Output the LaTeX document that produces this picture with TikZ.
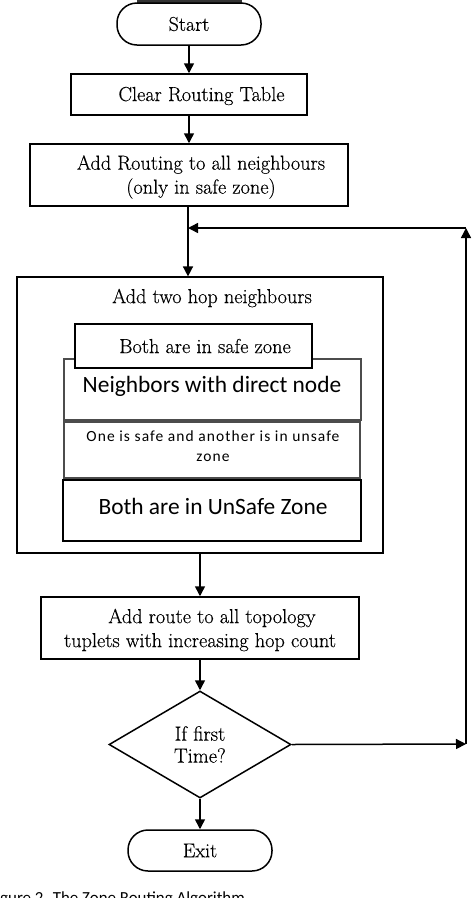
\documentclass[tikz,border=0pt]{standalone}
\usepackage{fontspec}
\setmainfont{Latin Modern Roman}[FakeBold=0.35]
\newfontfamily\calfont{Carlito}
\newfontfamily\calwide[LetterSpace=7]{Carlito}
\usetikzlibrary{arrows.meta,shapes.geometric}
\tikzset{
  box/.style={draw, line width=1.5pt, fill=white, inner sep=0pt},
  grbox/.style={draw=black!70, line width=1.2pt, fill=white, inner sep=0pt},
  term/.style={box, rounded corners=20pt, font=\fontsize{20}{24}\selectfont},
  arr/.style={-{Triangle[length=10pt,width=10pt]}, line width=1.5pt},
  ln/.style={line width=1.5pt},
  serif/.style={font=\fontsize{20.3}{24}\selectfont, align=center, inner sep=0pt},
  sans/.style={font=\calfont\fontsize{23.4}{28}\selectfont, inner sep=0pt},
}
\begin{document}
\begin{tikzpicture}[x=1pt,y=-1pt]
\useasboundingbox (0,0) rectangle (474,898);
\clip (0,0) rectangle (474,898);
\fill[black!80] (137,0) rectangle (242,3);

\node[term, minimum width=144pt, minimum height=42pt] (start) at (189,24) {Start};

\node[box, minimum width=236pt, minimum height=41pt] (clr) at (189,94.5) {};
\node[serif] (clrt) at (201.5,96) {Clear Routing Table};

\node[box, minimum width=318pt, minimum height=62pt] (addr) at (189,175) {};
\node[serif] (addrt) at (201,177) {Add Routing to all neighbours\\(only in safe zone)};

\coordinate (j) at (188,228);
\coordinate (rt) at (466,228);
\coordinate (rb) at (466,744);

\node[box, line width=1.2pt, fill=none, minimum width=366pt, minimum height=276pt] (outer) at (200,415) {};
\node[serif] (ttl) at (212,298) {Add two hop neighbours};

\node[grbox, minimum width=297pt, minimum height=61pt] (nb) at (212.5,389.5) {};
\node[sans] (nbt) at (212,386) {Neighbors with direct node};

\node[box, minimum width=237pt, minimum height=44pt] (sf) at (193.5,346) {};
\node[serif] (sft) at (205,346) {Both are in safe zone};

\node[grbox, minimum width=296pt, minimum height=56pt] (one) at (212,450) {};
\node[inner sep=0pt, align=center, font=\calwide\fontsize{15.5}{20}\selectfont] (onet) at (213,446) {One is safe and another is in unsafe\\zone};

\node[box, minimum width=298pt, minimum height=61pt] (us) at (212,510.5) {};
\node[sans] (ust) at (213,506) {Both are in UnSafe Zone};

\node[box, minimum width=318pt, minimum height=62pt] (ar) at (200,628) {};
\node[serif] (art) at (200,630) {\hspace*{24pt}Add route to all topology\\tuplets with increasing hop count};

\node[box, diamond, minimum width=182pt, minimum height=107pt, align=center, font=\fontsize{20.5}{22}\selectfont] (dm) at (200,744.5) {If first\\Time?};

\node[term, minimum width=144pt, minimum height=41pt] (ex) at (200,850.5) {Exit};

\node[anchor=base west, inner sep=0pt, font=\calfont\fontsize{16.9}{20}\selectfont] (cap) at (-11.6,903) {Figure 2. The Zone Routing Algorithm};

\draw[arr] (start) -- (clr);
\draw[arr] (clr) -- (addr);
\draw[ln] (addr.south -| j) -- (j);
\draw[arr] (j) -- (j |- outer.north);
\draw[arr] (dm.east) -- (rb);
\draw[arr] (rb) -- (rt);
\draw[arr] (rt) -- (j);
\draw[arr] (outer) -- (ar);
\draw[arr] (ar) -- (dm);
\draw[arr] (dm) -- (ex);
\end{tikzpicture}
\end{document}
